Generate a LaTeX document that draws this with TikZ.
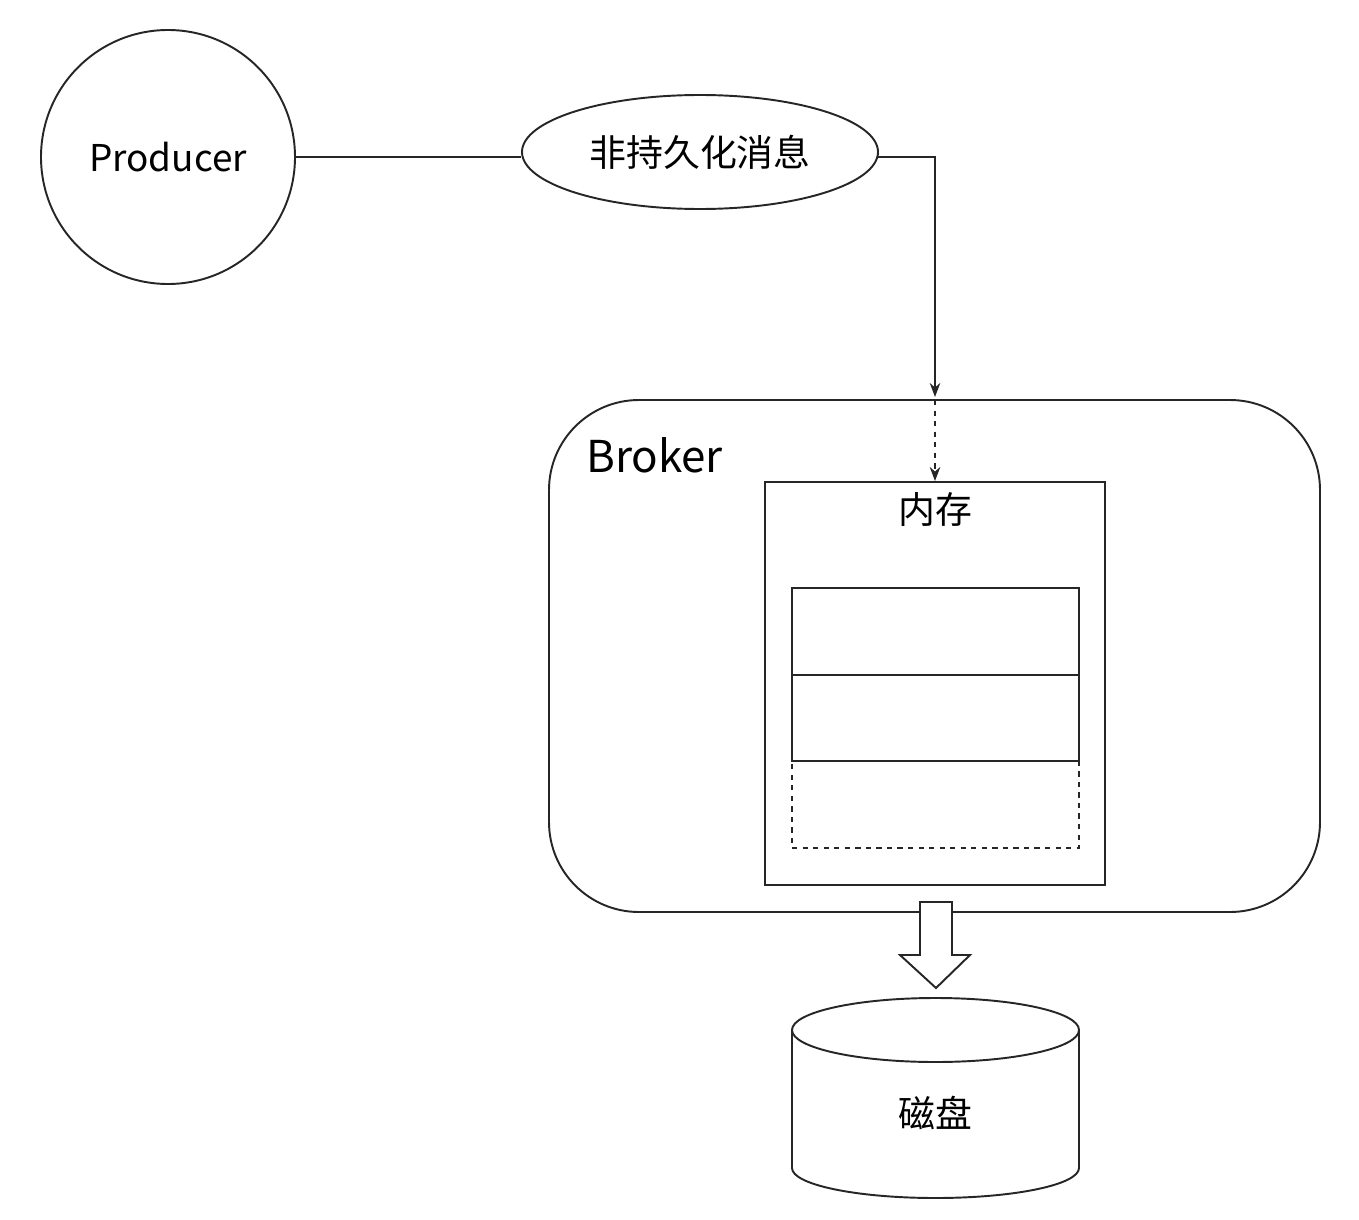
\documentclass[tikz,border=0pt]{standalone}
\usepackage{fontspec}
\setmainfont{Noto Sans CJK SC}
\usetikzlibrary{shapes.geometric,arrows.meta}
\begin{document}
\begin{tikzpicture}[x=0.02cm,y=-0.02cm,
  line/.style={draw=black!85,line width=1.1pt},
  lbl/.style={font=\fontsize{21}{24}\selectfont}]
\useasboundingbox (0,0) rectangle (1359,1220);
\node[circle,line,minimum size=254*0.02cm,inner sep=0,lbl] (prod) at (168,157) {Producer};
\node[ellipse,line,minimum width=356*0.02cm,minimum height=114*0.02cm,inner sep=0,lbl] (msg) at (700,152) {非持久化消息};
\draw[line] (prod.east) -- (msg.west |- prod.east);
\node[line,rounded corners=90*0.02cm,minimum width=771*0.02cm,minimum height=512*0.02cm] (broker) at (934.5,656) {};
\node[anchor=west,font=\fontsize{25}{28}\selectfont] (bl) at (580,455) {Broker};
\node[line,minimum width=340*0.02cm,minimum height=403*0.02cm,inner sep=0] (mem) at (935,683.5) {};
\node[lbl] (memt) at (935,510) {内存};
\coordinate (ea) at (935,397);
\coordinate (es) at (878,157);
\draw[line,-{Stealth[length=8pt,width=6pt]}] (es) -- (ea |- es) -- (ea);
\draw[line,dashed,-{Stealth[length=8pt,width=6pt]}] (935,400) -- (mem.north);
\node[line,minimum width=287*0.02cm,minimum height=87*0.02cm,inner sep=0] (r1) at (935.5,631.5) {};
\node[line,minimum width=287*0.02cm,minimum height=86*0.02cm,inner sep=0] (r2) at (935.5,718) {};
\node[line,dashed,minimum width=287*0.02cm,minimum height=87*0.02cm,inner sep=0] (r3) at (935.5,804.5) {};
\draw[line,fill=white] (920,902) -- (952,902) -- (952,955) -- (970,955) -- (936,988) -- (900,955) -- (920,955) -- cycle;
\draw[line] (792,1030) -- (792,1168) arc[start angle=180,end angle=360,x radius=143.5,y radius=-30] -- (1079,1030);
\draw[line] (935.5,1030) ellipse[x radius=143.5,y radius=32];
\node[lbl] (diskt) at (935,1113) {磁盘};
\end{tikzpicture}
\end{document}
